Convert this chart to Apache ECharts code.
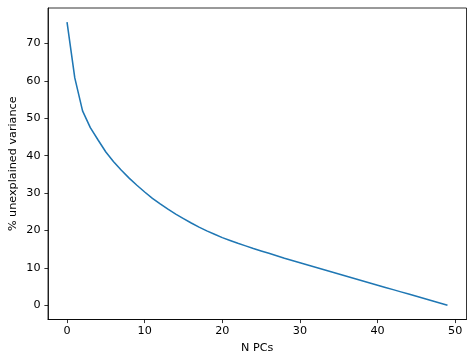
<!DOCTYPE html>
<html>
<head>
<meta charset="utf-8">
<script src="https://cdn.jsdelivr.net/npm/echarts@6/dist/echarts.min.js"></script>
<style>html,body{margin:0;padding:0;background:#fff}#c{width:474px;height:364px}</style>
</head>
<body>
<div id="c"></div>
<script>
// N PCs
const nPCs = [0,1,2,3,4,5,6,7,8,9,10,11,12,13,14,15,16,17,18,19,20,21,22,23,24,25,26,27,28,29,30,31,32,33,34,35,36,37,38,39,40,41,42,43,44,45,46,47,48,49];
// % unexplained variance
const unexplained = [75.7,60.8,52.0,47.5,44.2,41.0,38.4,36.1,34.0,32.1,30.3,28.6,27.1,25.7,24.4,23.2,22.0,20.9,19.9,19.0,18.1,17.35,16.6,15.9,15.2,14.55,13.9,13.25,12.6,12.0,11.4,10.8,10.2,9.6,9.0,8.4,7.8,7.2,6.6,6.0,5.4,4.8,4.2,3.6,3.0,2.4,1.8,1.2,0.6,0.0];
const xTicks = [0,10,20,30,40,50];
const yTicks = [0,10,20,30,40,50,60,70];

const xMin = -2.45, xMax = 51.45;
const yMin = -3.785, yMax = 79.485;

const chart = echarts.init(document.getElementById('c'), null, {renderer:'canvas'});
const font = 'DejaVu Sans';
const fs = 11.2;
chart.setOption({
  animation: false,
  backgroundColor: '#fff',
  grid: {left: 48, top: 8, right: 7.5, bottom: 44.5, containLabel: false, outerBoundsMode: 'none', show: true, borderColor: '#000', borderWidth: 0.8, backgroundColor: 'transparent'},
  xAxis: {
    type: 'value', min: xMin, max: xMax,
    name: 'N PCs', nameLocation: 'middle', nameGap: 23.5, nameMoveOverlap: false,
    nameTextStyle: {fontFamily: font, fontSize: fs, color: '#000'},
    axisLine: {show: true, onZero: false, lineStyle: {color: '#000', width: 0.8}},
    axisTick: {show: true, length: 3.6, lineStyle: {color: '#000', width: 0.8}, customValues: xTicks},
    axisLabel: {fontFamily: font, fontSize: fs, color: '#000', margin: 6.5, customValues: xTicks},
    splitLine: {show: false}
  },
  yAxis: {
    type: 'value', min: yMin, max: yMax,
    name: '% unexplained variance', nameLocation: 'middle', nameGap: 29, nameRotate: 90, nameMoveOverlap: false,
    nameTextStyle: {fontFamily: font, fontSize: fs, color: '#000'},
    axisLine: {show: true, onZero: false, lineStyle: {color: '#000', width: 0.8}},
    axisTick: {show: true, length: 3.6, lineStyle: {color: '#000', width: 0.8}, customValues: yTicks},
    axisLabel: {fontFamily: font, fontSize: fs, color: '#000', margin: 7.5, customValues: yTicks},
    splitLine: {show: false}
  },
  series: [{
    type: 'line',
    data: nPCs.map((x, i) => [x, unexplained[i]]),
    showSymbol: false, symbol: 'none',
    lineStyle: {color: '#1f77b4', width: 1.55},
    itemStyle: {color: '#1f77b4'}
  }]
});
</script>
</body>
</html>
